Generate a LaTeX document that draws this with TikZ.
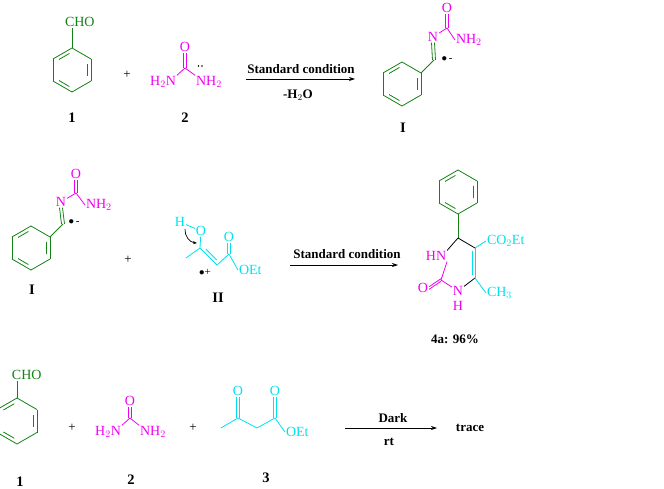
\documentclass[tikz,border=0pt]{standalone}
\usepackage{fontspec}
\setmainfont{Liberation Serif}
\usetikzlibrary{calc,arrows.meta}
\definecolor{gr}{RGB}{20,130,20}
\definecolor{mg}{RGB}{240,0,240}
\definecolor{cy}{RGB}{0,225,240}
\newcommand\benz[4]{%
 \foreach \a in {-30,30,...,270} \draw[#4,line width=0.8pt] ($(#1,#2)+(\a:#3)$) -- ($(#1,#2)+(\a+60:#3)$);
 \foreach \a in {-30,90,210} \draw[#4,line width=0.8pt] ($(#1,#2)+(\a+9:0.76*#3)$) -- ($(#1,#2)+(\a+51:0.76*#3)$);}
\begin{document}
\begin{tikzpicture}[x=1pt,y=-1pt,
 atom/.style={inner sep=0.8pt,font=\fontsize{14}{15}\selectfont},
 lbl/.style={inner sep=1pt,font=\bfseries\fontsize{13}{14}\selectfont},
 nlbl/.style={inner sep=1pt,font=\bfseries\fontsize{14.5}{15}\selectfont},
 bd/.style={line width=0.8pt},
 plus/.style={inner sep=0pt,font=\fontsize{13}{13}\selectfont},
 rarr/.style={line width=0.8pt,-{Stealth[length=6pt,width=4pt]}}]
\useasboundingbox (0,0) rectangle (664,489);
% ---------- row 1
\benz{72}{70}{22}{gr}
\node[atom,text=gr,anchor=west] (cho1) at (64,22) {CHO};
\coordinate (v1) at (72,48);
\draw[bd,gr] (v1) -- (cho1.south west -| v1);
\node[nlbl] (l1) at (72,118) {1};
\node[plus] (p1) at (127,75) {+};
\node[atom,text=mg] (uo) at (185,47) {O};
\coordinate (uc) at (185,68);
\node[atom,text=mg] (un1) at (163,82) {H$_2$N};
\node[atom,text=mg] (un2) at (209,82) {NH$_2$};
\draw[bd,mg] (uc) -- (un1.north east); \draw[bd,mg] (uc) -- (un2.north west);
\draw[bd,mg] ($(uc)+(-1.5,0)$) -- ($(uo.south)+(-1.5,0)$); \draw[bd,mg] ($(uc)+(1.5,0)$) -- ($(uo.south)+(1.5,0)$);
\fill (198.5,66) circle (0.9) (202,66) circle (0.9);
\node[nlbl] (l2) at (185,118) {2};
\coordinate (a1s) at (246,79); \coordinate (a1e) at (355,79);
\draw[rarr] (a1s) -- (a1e);
\node[lbl] (c1) at (301,69) {Standard condition};
\node[lbl] (c2) at (298,95) {-H$_2$O};
\benz{402}{84}{22}{gr}
\coordinate (iv) at (421,73); \coordinate (ic) at (434,60);
\node[atom,text=mg] (in) at (433,37) {N};
\coordinate (icc) at (447,28);
\node[atom,text=mg] (io) at (447,8) {O};
\node[atom,text=mg,anchor=west] (inh) at (455,40) {NH$_2$};
\draw[bd,gr] (iv) -- (ic);
\draw[bd,gr] ($(ic)+(-1.5,0)$) -- ($(in.south)+(-1.5,0)$); \draw[bd,gr] ($(ic)+(1.5,0)$) -- ($(in.south)+(1.5,0)$);
\draw[bd,mg] (in) -- (icc) -- (inh.west);
\draw[bd,mg] ($(icc)+(-1.5,0)$) -- ($(io.south)+(-1.5,0)$); \draw[bd,mg] ($(icc)+(1.5,0)$) -- ($(io.south)+(1.5,0)$);
\node[inner sep=0pt,font=\fontsize{11}{11}\selectfont] (rad1) at (447,59) {$\bullet$\,-};
\node[nlbl] (lI) at (403,128) {I};
% ---------- row 2
\benz{31}{248}{22}{gr}
\coordinate (jv) at (50,237); \coordinate (jc) at (63,224);
\node[atom,text=mg] (jn) at (61,202) {N};
\coordinate (jcc) at (76,193);
\node[atom,text=mg] (jo) at (76,174) {O};
\node[atom,text=mg,anchor=west] (jnh) at (85,205) {NH$_2$};
\draw[bd,gr] (jv) -- (jc);
\draw[bd,gr] ($(jc)+(-1.5,0)$) -- ($(jn.south)+(-1.5,0)$); \draw[bd,gr] ($(jc)+(1.5,0)$) -- ($(jn.south)+(1.5,0)$);
\draw[bd,mg] (jn) -- (jcc) -- (jnh.west);
\draw[bd,mg] ($(jcc)+(-1.5,0)$) -- ($(jo.south)+(-1.5,0)$); \draw[bd,mg] ($(jcc)+(1.5,0)$) -- ($(jo.south)+(1.5,0)$);
\node[inner sep=0pt,font=\fontsize{11}{11}\selectfont] (rad2) at (74,222) {$\bullet$\,-};
\node[nlbl] (lI2) at (32,290) {I};
\node[plus] (p2) at (128,260) {+};
\node[atom,text=cy] (kh) at (180,222) {H};
\node[atom,text=cy] (ko) at (201,231) {O};
\coordinate (kc) at (200,248); \coordinate (kme) at (186,258);
\coordinate (kch) at (217,265); \coordinate (kcc) at (229,254);
\node[atom,text=cy] (ko2) at (229,237) {O};
\node[atom,text=cy,anchor=west] (koet) at (238,270) {OEt};
\draw[bd,cy] (kh) -- (ko); \draw[bd,cy] (ko) -- (kc) -- (kme);
\draw[bd,cy] (kc) -- (kch) -- (kcc) -- (koet.west);
\draw[bd,cy] ($(kc)!0.2!(kch)+(2.4,-2.4)$) -- ($(kc)!0.85!(kch)+(2.4,-2.4)$);
\draw[bd,cy] ($(kcc)+(-1.5,0)$) -- ($(ko2.south)+(-1.5,0)$); \draw[bd,cy] ($(kcc)+(1.5,0)$) -- ($(ko2.south)+(1.5,0)$);
\draw[line width=0.7pt,-{Stealth[length=4pt,width=3pt]}] (185,229) to[bend right=45] (197,243);
\node[inner sep=0pt,font=\fontsize{11}{11}\selectfont] (rad3) at (205,272) {$\bullet$+};
\node[nlbl] (lII) at (218,298) {II};
\coordinate (a2s) at (290,265); \coordinate (a2e) at (398,265);
\draw[rarr] (a2s) -- (a2e);
\node[lbl] (c3) at (347,254) {Standard condition};
\benz{458}{192}{22}{gr}
\coordinate (pv) at (458,214);
\coordinate (c4) at (458,238); \coordinate (c5) at (475,248); \coordinate (c6) at (475,278);
\node[atom,text=mg] (n1) at (458,291) {N};
\node[atom,text=mg] (n1h) at (458,306) {H};
\coordinate (c2) at (441,280);
\node[atom,text=mg] (n3) at (436,256) {HN};
\node[atom,text=mg] (o4) at (423,288) {O};
\node[atom,text=cy,anchor=west] (co2) at (486,241) {CO$_2$Et};
\node[atom,text=cy,anchor=west] (ch3) at (486,293) {CH$_3$};
\draw[bd,gr] (pv) -- (c4);
\draw[bd] (c4) -- (n3.north east); \draw[bd] (c4) -- (c5); \draw[bd] (c6) -- (n1);
\draw[bd,cy] (c5) -- (c6); \draw[bd,cy] ($(c5)+(-3,3)$) -- ($(c6)+(-3,-3)$);
\draw[bd,mg] (n1) -- (c2) -- (n3.south east);
\draw[bd,mg] ($(c2)+(0,-1.3)$) -- ($(o4.east)+(0,-1.3)$); \draw[bd,mg] ($(c2)+(0,1.3)$) -- ($(o4.east)+(0,1.3)$);
\draw[bd,cy] (c5) -- (co2.west); \draw[bd,cy] (c6) -- (ch3.west);
\node[lbl] (l4a) at (455,339) {4a: 96\%};
% ---------- row 3
\benz{17}{421}{23}{gr}
\node[atom,text=gr,anchor=west] (cho2) at (11,375) {CHO};
\coordinate (w1) at (17,398);
\draw[bd,gr] (w1) -- (cho2.south west -| w1);
\node[nlbl] (l1b) at (20,482) {1};
\node[plus] (p3) at (72,428) {+};
\node[atom,text=mg] (vo) at (130,401) {O};
\coordinate (vc) at (130,418);
\node[atom,text=mg] (vn1) at (108,432) {H$_2$N};
\node[atom,text=mg] (vn2) at (153,432) {NH$_2$};
\draw[bd,mg] (vc) -- (vn1.north east); \draw[bd,mg] (vc) -- (vn2.north west);
\draw[bd,mg] ($(vc)+(-1.5,0)$) -- ($(vo.south)+(-1.5,0)$); \draw[bd,mg] ($(vc)+(1.5,0)$) -- ($(vo.south)+(1.5,0)$);
\node[nlbl] (l2b) at (131,480) {2};
\node[plus] (p4) at (193,428) {+};
\coordinate (m1) at (221,428); \coordinate (m2) at (238,418); \coordinate (m3) at (257,428); \coordinate (m4) at (275,418);
\node[atom,text=cy] (mo1) at (238,391) {O};
\node[atom,text=cy] (mo2) at (275,391) {O};
\node[atom,text=cy,anchor=west] (moet) at (285,432) {OEt};
\draw[bd,cy] (m1) -- (m2) -- (m3) -- (m4) -- (moet.west);
\draw[bd,cy] ($(m2)+(-1.5,0)$) -- ($(mo1.south)+(-1.5,0)$); \draw[bd,cy] ($(m2)+(1.5,0)$) -- ($(mo1.south)+(1.5,0)$);
\draw[bd,cy] ($(m4)+(-1.5,0)$) -- ($(mo2.south)+(-1.5,0)$); \draw[bd,cy] ($(m4)+(1.5,0)$) -- ($(mo2.south)+(1.5,0)$);
\node[nlbl] (l3) at (266,478) {3};
\coordinate (a3s) at (345,428); \coordinate (a3e) at (437,428);
\draw[rarr] (a3s) -- (a3e);
\node[lbl] (c4t) at (393,418) {Dark};
\node[lbl] (c5t) at (389,442) {rt};
\node[lbl] (tr) at (470,428) {trace};
\end{tikzpicture}
\end{document}
